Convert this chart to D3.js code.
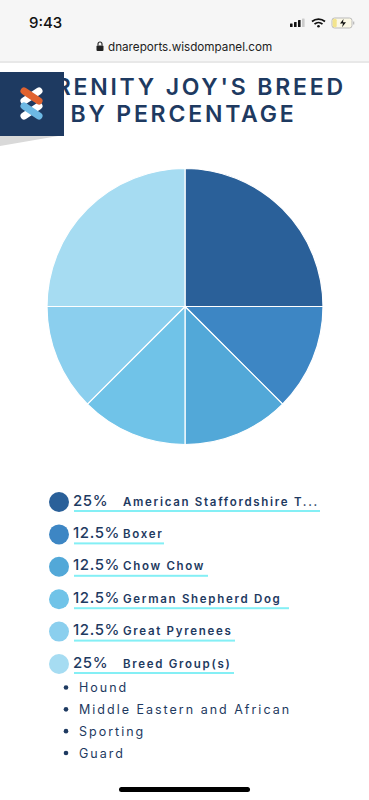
<!DOCTYPE html>
<html>
<head>
<meta charset="utf-8">
<script src="https://cdn.jsdelivr.net/npm/d3@7"></script>
<style>
html,body{margin:0;padding:0;background:#fff;overflow:hidden;}
svg{display:block;}
text{font-family:Inter,"Noto Sans",sans-serif;}
</style>
</head>
<body>
<script>
var breeds = ["American Staffordshire T...","Boxer","Chow Chow","German Shepherd Dog","Great Pyrenees","Breed Group(s)"];
var percents = [25,12.5,12.5,12.5,12.5,25];
var colors = ["#2a6099","#3d86c4","#52a8d8","#70c3e8","#8bcfee","#a6dcf2"];
var groups = ["Hound","Middle Eastern and African","Sporting","Guard"];
var titleLines = ["SERENITY JOY'S BREED","BY PERCENTAGE"];

var navy = "#1e3a61";
var svg = d3.select("body").append("svg").attr("width",369).attr("height",800);

//browser chrome
svg.append("rect").attr("width",369).attr("height",62).attr("fill","#f6f6f6");
svg.append("rect").attr("y",61).attr("width",369).attr("height",2).attr("fill","#e8e8e8");
svg.append("text").attr("x",29).attr("y",28).attr("font-size",15).attr("font-weight",500).attr("fill","#111").text("9:43");
svg.append("text").attr("x",108).attr("y",51).attr("font-size",11.7).attr("fill","#222").text("dnareports.wisdompanel.com");
//lock
svg.append("rect").attr("x",96.5).attr("y",45.5).attr("width",7).attr("height",5.5).attr("rx",1).attr("fill","#222");
svg.append("path").attr("d","M98 45.5v-1.5a2 2 0 0 1 4 0V45.5").attr("fill","none").attr("stroke","#222").attr("stroke-width",1.1);
//signal
[[290,3.5,"#111"],[294,5,"#111"],[298,7,"#111"],[302,8.5,"#ccc"]].forEach(function(b){
	svg.append("rect").attr("x",b[0]).attr("y",27-b[1]).attr("width",2.6).attr("height",b[1]).attr("rx",.5).attr("fill",b[2]);
});
//wifi
svg.append("path").attr("d","M312 21.5a10 10 0 0 1 13 0M314.5 24.1a6 6 0 0 1 8 0").attr("fill","none").attr("stroke","#111").attr("stroke-width",1.7);
svg.append("circle").attr("cx",318.5).attr("cy",26.3).attr("r",1.3).attr("fill","#111");
//battery
svg.append("rect").attr("x",332).attr("y",18).attr("width",20).attr("height",10).attr("rx",2.5).attr("fill","#fbf8e6").attr("stroke","#bbb");
svg.append("rect").attr("x",332.7).attr("y",18.7).attr("width",4).attr("height",8.6).attr("rx",1.5).attr("fill","#f3e48c");
svg.append("path").attr("d","M343.5 19l-3.5 4.6h3l-1 3.6 4-5h-3z").attr("fill","#111");
svg.append("rect").attr("x",353).attr("y",21.5).attr("width",1.3).attr("height",3).attr("fill","#bbb");

//title
var title = svg.selectAll(".title").data(titleLines).enter().append("text")
	.attr("class","title")
	.attr("x",183.5)
	.attr("y",function(d,i){ return 95+i*27; })
	.attr("text-anchor","middle")
	.attr("font-size",23)
	.attr("font-weight",600)
	.attr("letter-spacing",2.8)
	.attr("fill",navy)
	.text(function(d){ return d; });

//logo badge
svg.append("path").attr("d","M0 135H64L0 146Z").attr("fill","#d9d9d9");
svg.append("rect").attr("y",72).attr("width",64).attr("height",64).attr("fill",navy);
var logo = svg.append("g").attr("stroke-linecap","round").attr("stroke-width",7).attr("fill","none");
logo.append("path").attr("d","M39 91L24 101").attr("stroke","#fff");
logo.append("path").attr("d","M24 116L39 106").attr("stroke","#fff");
logo.append("path").attr("d","M24 91L39 101").attr("stroke","#e0622f");
logo.append("path").attr("d","M24 106L39 116").attr("stroke","#6db9e4");

//pie
var pie = d3.pie().sort(null)(percents);
var arc = d3.arc().innerRadius(0).outerRadius(138);
svg.append("g").attr("transform","translate(185,306.5)")
	.selectAll("path").data(pie).enter().append("path")
	.attr("d",arc)
	.attr("fill",function(d,i){ return colors[i]; })
	.attr("stroke","#fff")
	.attr("stroke-width",1.2);

//legend
var rowY = d3.scalePoint().domain(d3.range(breeds.length)).range([502,664]);
var underlineEnd = [320,164,208,289,235,234];
var rows = svg.selectAll(".row").data(breeds).enter().append("g").attr("class","row")
	.attr("transform",function(d,i){ return "translate(0,"+rowY(i)+")"; });
rows.append("circle").attr("cx",59).attr("r",10).attr("fill",function(d,i){ return colors[i]; });
rows.append("rect").attr("x",74).attr("y",8).attr("height",2)
	.attr("width",function(d,i){ return underlineEnd[i]-74; }).attr("fill","#84eff5");
rows.append("text").attr("x",73).attr("y",3.5).attr("font-size",15).attr("font-weight",500)
	.attr("letter-spacing",.6).attr("fill",navy)
	.text(function(d,i){ return percents[i]+"%"; });
rows.append("text").attr("x",123).attr("y",3.5).attr("font-size",11.5).attr("font-weight",600)
	.attr("letter-spacing",1.7).attr("fill",navy)
	.text(function(d){ return d; });

//breed groups list
var listY = d3.scalePoint().domain(d3.range(groups.length)).range([687.5,753]);
svg.selectAll(".bullet").data(groups).enter().append("circle").attr("class","bullet")
	.attr("cx",66).attr("cy",function(d,i){ return listY(i); }).attr("r",2.3).attr("fill",navy);
svg.selectAll(".group").data(groups).enter().append("text").attr("class","group")
	.attr("x",79).attr("y",function(d,i){ return listY(i)+4.5; })
	.attr("font-size",12.5).attr("letter-spacing",2).attr("fill",navy)
	.text(function(d){ return d; });

//home indicator
svg.append("rect").attr("x",119).attr("y",787).attr("width",131).attr("height",5).attr("rx",2.5).attr("fill","#000");
</script>
</body>
</html>
